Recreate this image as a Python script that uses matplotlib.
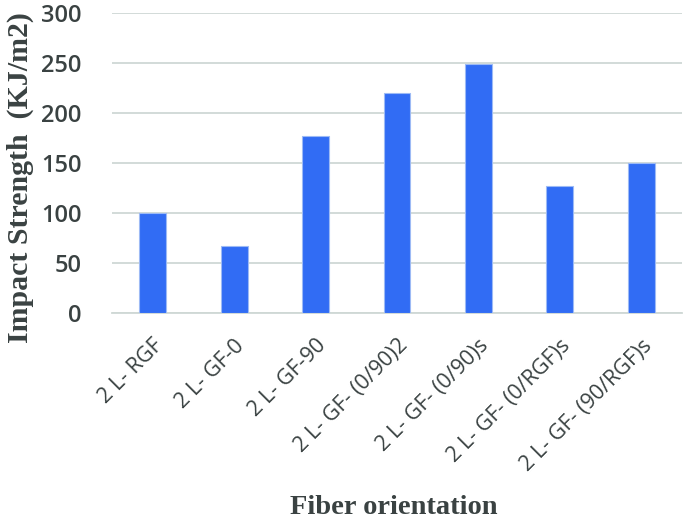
import matplotlib
matplotlib.use("Agg")
import matplotlib.pyplot as plt

categories = ["2 L- RGF", "2 L- GF-0", "2 L- GF-90", "2 L- GF- (0/90)2",
              "2 L- GF- (0/90)s", "2 L- GF- (0/RGF)s", "2 L- GF- (90/RGF)s"]
values = [100, 67, 177, 220, 249, 127, 150]
yticks = [0, 50, 100, 150, 200, 250, 300]

fig = plt.figure(figsize=(6.85, 5.2), dpi=100)
ax = fig.add_axes([112/685, 1-313/520, 570/685, 300/520])

x = list(range(len(categories)))
ax.bar(x, values, width=0.33, color="#316CF4", edgecolor="#9DBAF5", linewidth=0.8, zorder=3)

ax.set_xlim(-0.5, 6.5)
ax.set_ylim(0, 300)
ax.set_yticks(yticks)
ax.yaxis.grid(True, color="#CFD8D5", linewidth=1.3, zorder=0)
ax.set_axisbelow(True)
for s in ["top", "right", "left"]:
    ax.spines[s].set_visible(False)
ax.spines["bottom"].set_color("#CFD8D5")
ax.spines["bottom"].set_linewidth(1.3)

ax.tick_params(axis="both", length=0)
ax.tick_params(axis="y", pad=22)
ax.set_yticklabels([str(t) for t in yticks], family="Open Sans", fontsize=17,
                   fontweight="semibold", color="#3A4242")
ax.set_xticks(x)
ax.set_xticklabels(categories, rotation=45, ha="right", rotation_mode="anchor",
                   family="Open Sans", fontsize=15.5, color="#3A4242")
ax.tick_params(axis="x", pad=16)

fig.text(0.030, 1-178/520, "Impact Strength  (KJ/m2)", rotation=90, ha="center", va="center",
         family="Liberation Serif", fontweight="bold", fontsize=21.5, color="#3A4242")
fig.text(394/685, 1-508/520, "Fiber orientation", ha="center", va="center",
         family="Liberation Serif", fontweight="bold", fontsize=20.5, color="#3A4242")

fig.savefig("out.png", dpi=100)
